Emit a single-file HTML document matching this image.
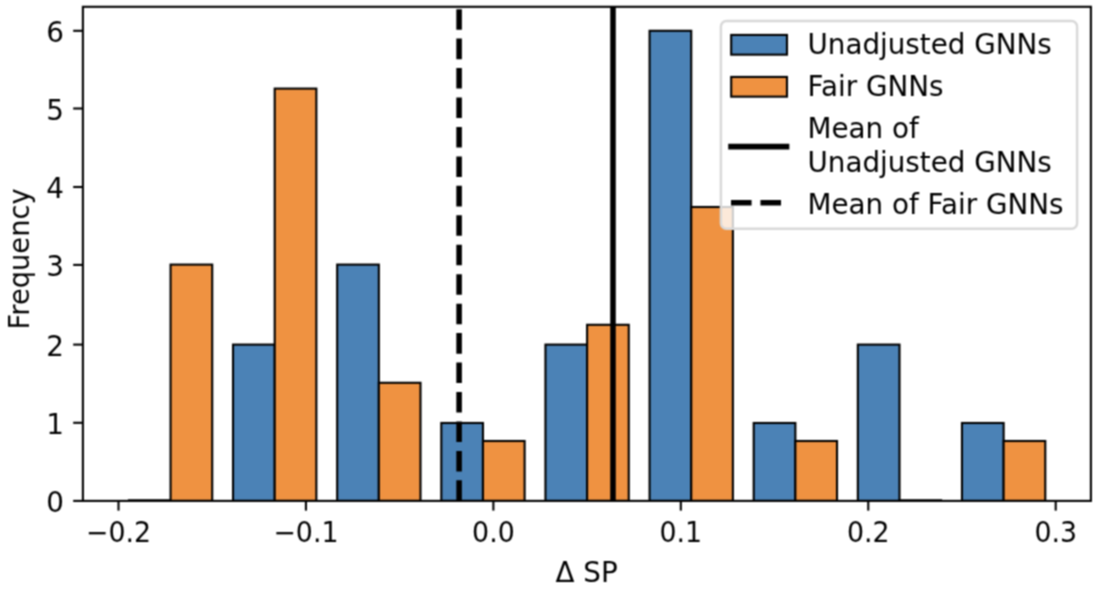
<!DOCTYPE html>
<html lang="en"><head><meta charset="utf-8"><title>Δ SP histogram</title>
<style>html,body{margin:0;padding:0;background:#fff}body{width:1100px;height:594px;overflow:hidden}svg{display:block}#chart{width:1100px;height:594px}text{font-family:"DejaVu Sans","Liberation Sans",sans-serif;font-size:27.778px;fill:#000}</style>
</head><body><div id="chart">
<svg width="1100" height="594" viewBox="0 0 1100 594">
<defs><filter id="soft" x="0" y="0" width="1100" height="594" filterUnits="userSpaceOnUse" color-interpolation-filters="sRGB"><feConvolveMatrix order="3" kernelMatrix="1 2 1 2 4 2 1 2 1" edgeMode="duplicate" preserveAlpha="true"/></filter></defs>
<g filter="url(#soft)">
<rect width="1100" height="594" fill="#fff"/>
<defs><clipPath id="ax"><rect x="82.9" y="6.8" width="1008" height="494.1"/></clipPath></defs>
<g clip-path="url(#ax)">
<g stroke="#000" stroke-width="2.1" stroke-linejoin="miter">
<g fill="#4b82b6">
<line x1="127.92" y1="500.2" x2="171.57" y2="500.2"/>
<rect x="233.05" y="344.6" width="41.65" height="156.3"/>
<rect x="337.18" y="264.6" width="41.65" height="236.3"/>
<rect x="441.31" y="423" width="41.65" height="77.9"/>
<rect x="545.45" y="344.6" width="41.65" height="156.3"/>
<rect x="649.58" y="30.8" width="41.65" height="470.1"/>
<rect x="753.71" y="423" width="41.65" height="77.9"/>
<rect x="857.84" y="344.6" width="41.65" height="156.3"/>
<rect x="961.98" y="423" width="41.65" height="77.9"/>
</g>
<g fill="#ef9241">
<rect x="170.57" y="264.6" width="41.65" height="236.3"/>
<rect x="274.7" y="88.6" width="41.65" height="412.3"/>
<rect x="378.84" y="382.8" width="41.65" height="118.1"/>
<rect x="482.97" y="441" width="41.65" height="59.9"/>
<rect x="587.1" y="324.8" width="41.65" height="176.1"/>
<rect x="691.23" y="207" width="41.65" height="293.9"/>
<rect x="795.36" y="441" width="41.65" height="59.9"/>
<line x1="898.5" y1="500.2" x2="942.15" y2="500.2"/>
<rect x="1003.63" y="441" width="41.65" height="59.9"/>
</g>
</g>
<line x1="613" y1="505.9" x2="613" y2="1.8" stroke="#000" stroke-width="5.56"/>
<line x1="459.1" y1="500.9" x2="459.1" y2="1.8" stroke="#000" stroke-width="5.56" stroke-dasharray="20.56 8.89"/>
</g>
<g stroke="#000" stroke-width="2.1" fill="none">
<line x1="118.5" y1="500.9" x2="118.5" y2="510.62"/>
<line x1="305.94" y1="500.9" x2="305.94" y2="510.62"/>
<line x1="493.38" y1="500.9" x2="493.38" y2="510.62"/>
<line x1="680.82" y1="500.9" x2="680.82" y2="510.62"/>
<line x1="868.26" y1="500.9" x2="868.26" y2="510.62"/>
<line x1="1055.7" y1="500.9" x2="1055.7" y2="510.62"/>
<line x1="82.9" y1="500.9" x2="73.18" y2="500.9"/>
<line x1="82.9" y1="422.8" x2="73.18" y2="422.8"/>
<line x1="82.9" y1="344.6" x2="73.18" y2="344.6"/>
<line x1="82.9" y1="264.9" x2="73.18" y2="264.9"/>
<line x1="82.9" y1="187" x2="73.18" y2="187"/>
<line x1="82.9" y1="108.5" x2="73.18" y2="108.5"/>
<line x1="82.9" y1="30.8" x2="73.18" y2="30.8"/>
<rect x="82.9" y="6.8" width="1008" height="494.1" stroke-linejoin="miter"/>
</g>
<g text-anchor="middle">
<text transform="translate(118.5 542.2) scale(0.965 1)">−0.2</text>
<text transform="translate(305.94 542.2) scale(0.965 1)">−0.1</text>
<text transform="translate(493.38 542.2) scale(0.965 1)">0.0</text>
<text transform="translate(680.82 542.2) scale(0.965 1)">0.1</text>
<text transform="translate(868.26 542.2) scale(0.965 1)">0.2</text>
<text transform="translate(1055.7 542.2) scale(0.965 1)">0.3</text>
<text x="586.6" y="582.1">Δ SP</text>
</g>
<g text-anchor="end">
<text x="64" y="512">0</text>
<text x="64" y="433.9">1</text>
<text x="64" y="355.7">2</text>
<text x="64" y="276">3</text>
<text x="64" y="198.1">4</text>
<text x="64" y="119.6">5</text>
<text x="64" y="41.9">6</text>
</g>
<text text-anchor="middle" transform="translate(29.2 258.9) rotate(-90) scale(0.984 1)">Frequency</text>
<rect x="720.9" y="21" width="356.2" height="207.8" rx="5.56" ry="5.56" fill="#fff" fill-opacity="0.8" stroke="#d8d8d8" stroke-width="2.4"/>
<rect x="731.2" y="34.95" width="55.76" height="19.7" fill="#4b82b6" stroke="#000" stroke-width="2.1"/>
<rect x="731.2" y="76.95" width="55.76" height="19.7" fill="#ef9241" stroke="#000" stroke-width="2.1"/>
<line x1="731" y1="146.6" x2="786.56" y2="146.6" stroke="#000" stroke-width="5.56" stroke-linecap="square"/>
<line x1="731" y1="202.7" x2="786.56" y2="202.7" stroke="#000" stroke-width="5.56" stroke-dasharray="20.56 8.89"/>
<text x="807.5" y="53.8">Unadjusted GNNs</text>
<text x="807.5" y="95.8">Fair GNNs</text>
<text x="807.5" y="137.8">Mean of</text>
<text x="807.5" y="171.8">Unadjusted GNNs</text>
<text x="807.5" y="213.8">Mean of Fair GNNs</text>
</g>
</svg>
</div></body></html>
